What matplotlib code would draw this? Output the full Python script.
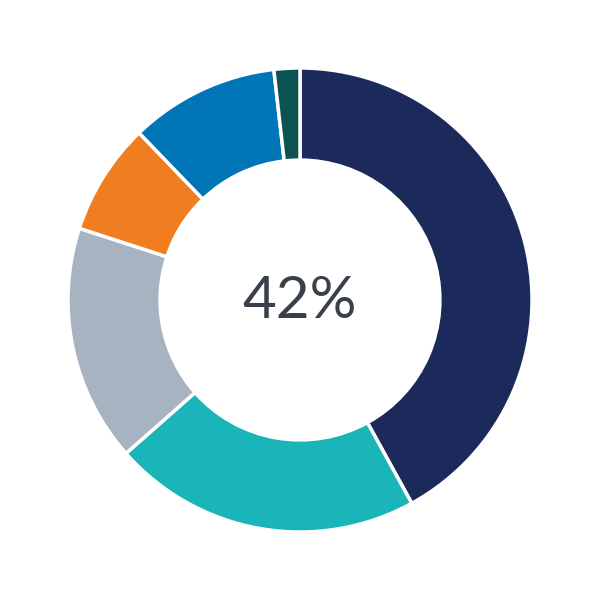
import matplotlib.pyplot as plt

# slice shares, clockwise from 12 o'clock
labels = ["Navy", "Teal", "Gray", "Orange", "Blue", "Green"]
shares = [42.0, 21.5, 16.5, 7.8, 10.4, 1.8]
colors = ["#1b2a5a", "#1ab5b8", "#a8b3c2", "#f07d1f", "#0076b6", "#0b5250"]
center_text = "42%"

fig, ax = plt.subplots(figsize=(6, 6), dpi=100)
fig.subplots_adjust(left=0, right=1, top=1, bottom=0)

ax.pie(shares, colors=colors, startangle=90, counterclock=False,
       radius=1.0,
       wedgeprops=dict(width=0.397, edgecolor="white", linewidth=2.5))

ax.text(0, -0.005, center_text, ha="center", va="center", fontsize=42,
        color="#3a4049", family=["Lato", "DejaVu Sans"], fontweight="normal")

ax.set_xlim(-1.293, 1.293)
ax.set_ylim(-1.293, 1.293)
ax.set_aspect("equal")
ax.axis("off")

plt.savefig("out.png", dpi=100, facecolor="white")
